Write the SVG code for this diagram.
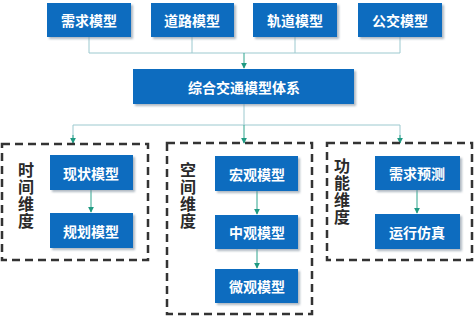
<svg xmlns="http://www.w3.org/2000/svg" width="474" height="316" viewBox="0 0 474 316">
<defs>
<style>
.box{fill:#0c6cbf;filter:url(#sh)}
.bt{fill:#fff;font-family:"Noto Sans CJK SC","Noto Sans",sans-serif;font-weight:bold;font-size:14px;text-anchor:middle;dominant-baseline:central}
.lt{fill:#2a2a2a;font-family:"Noto Sans CJK SC","Noto Sans",sans-serif;font-weight:bold;font-size:16px;writing-mode:vertical-rl;text-anchor:start;letter-spacing:1px}
.dash{fill:none;stroke:#333;stroke-width:2.5;stroke-dasharray:8 5}
.ln{fill:none;stroke:#9cc9cf;stroke-width:1}
.ar{fill:none;stroke:#2ea58e;stroke-width:1;marker-end:url(#ah)}
</style>
<marker id="ah" viewBox="0 0 8 8" refX="7" refY="4" markerWidth="6" markerHeight="6" orient="auto" markerUnits="userSpaceOnUse">
<path d="M0,0 L8,4 L0,8 z" fill="#1f9a82"/>
</marker>
<filter id="sh" x="-10%" y="-10%" width="130%" height="140%">
<feDropShadow dx="2" dy="2" stdDeviation="1.2" flood-color="#7a8a99" flood-opacity="0.6"/>
</filter>
</defs>
<g id="connectors">
<polyline class="ln" points="89,37 89,53 400,53 400,37"/>
<line class="ln" x1="192" y1="37" x2="192" y2="53"/>
<line class="ln" x1="295" y1="37" x2="295" y2="53"/>
<line class="ar" x1="244" y1="53" x2="244" y2="68"/>
<line class="ln" x1="244" y1="104" x2="244" y2="125"/>
<polyline class="ln" points="73,143 73,125 400,125 400,143"/>
<line class="ar" x1="73" y1="135" x2="73" y2="143"/>
<line class="ar" x1="244" y1="125" x2="244" y2="143"/>
<line class="ar" x1="400" y1="135" x2="400" y2="143"/>
<line class="ar" x1="91" y1="190" x2="91" y2="212"/>
<line class="ar" x1="257" y1="191" x2="257" y2="214"/>
<line class="ar" x1="257" y1="249" x2="257" y2="268"/>
<line class="ar" x1="417" y1="190" x2="417" y2="213"/>
</g>
<g id="top1"><rect class="box" x="47" y="3" width="84" height="34"/><text class="bt" x="89" y="20">需求模型</text></g>
<g id="top2"><rect class="box" x="151" y="3" width="83" height="34"/><text class="bt" x="192" y="20">道路模型</text></g>
<g id="top3"><rect class="box" x="253" y="3" width="84" height="34"/><text class="bt" x="295" y="20">轨道模型</text></g>
<g id="top4"><rect class="box" x="358" y="3" width="84" height="34"/><text class="bt" x="400" y="20">公交模型</text></g>
<g id="main"><rect class="box" x="133" y="69" width="221" height="35"/><text class="bt" x="244" y="87">综合交通模型体系</text></g>
<g id="time">
<rect class="dash" x="2" y="144" width="146" height="116"/>
<text class="lt" x="26" y="162">时间维度</text>
</g>
<g id="space">
<rect class="dash" x="167" y="143" width="145" height="171"/>
<text class="lt" x="188" y="162">空间维度</text>
</g>
<g id="func">
<rect class="dash" x="327" y="143" width="145" height="117"/>
<text class="lt" x="342" y="158">功能维度</text>
</g>
<g id="xz"><rect class="box" x="50" y="155" width="83" height="35"/><text class="bt" x="91" y="173">现状模型</text></g>
<g id="gh"><rect class="box" x="50" y="213" width="83" height="35"/><text class="bt" x="91" y="231">规划模型</text></g>
<g id="hg"><rect class="box" x="215" y="156" width="83" height="35"/><text class="bt" x="257" y="174">宏观模型</text></g>
<g id="zg"><rect class="box" x="215" y="215" width="83" height="34"/><text class="bt" x="257" y="232">中观模型</text></g>
<g id="wg"><rect class="box" x="215" y="269" width="83" height="34"/><text class="bt" x="257" y="286">微观模型</text></g>
<g id="xq"><rect class="box" x="375" y="156" width="85" height="34"/><text class="bt" x="417" y="173">需求预测</text></g>
<g id="yx"><rect class="box" x="375" y="214" width="85" height="35"/><text class="bt" x="417" y="232">运行仿真</text></g>
</svg>
